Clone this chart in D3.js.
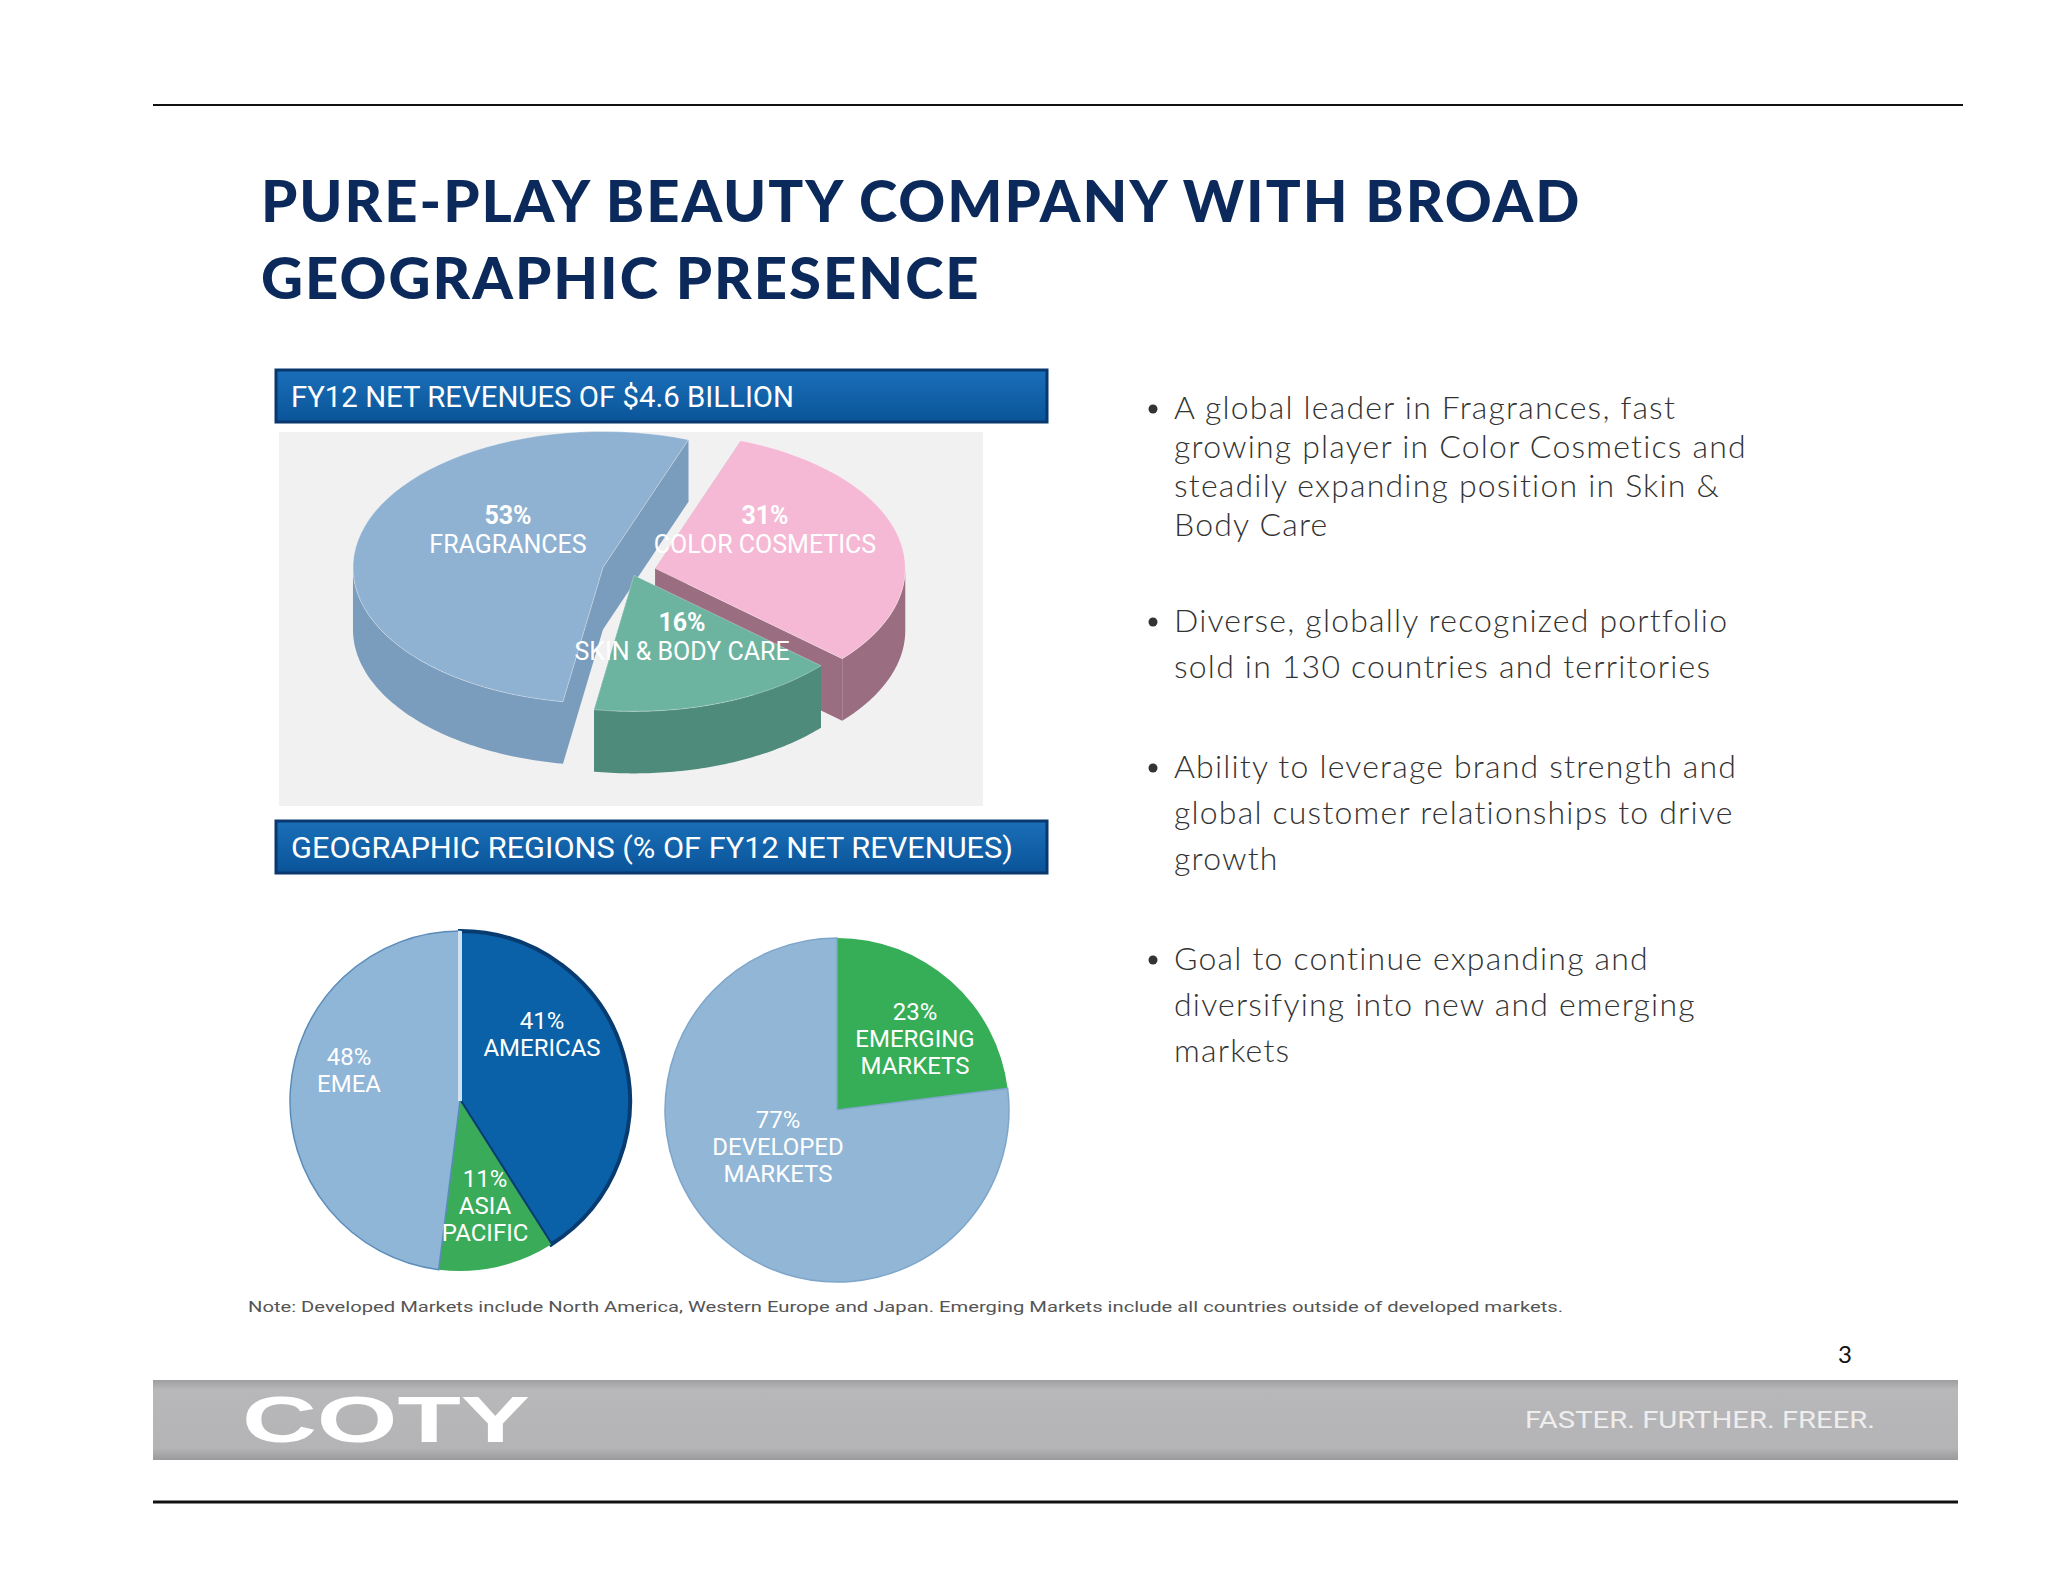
<!DOCTYPE html>
<html><head><meta charset="utf-8">
<script src="https://cdn.jsdelivr.net/npm/d3@7"></script>
<style>body{margin:0;background:#fff}svg{display:block}</style>
</head><body><svg id="c" width="2048" height="1582"></svg>
<script>
const categoryNames = ["FRAGRANCES","COLOR COSMETICS","SKIN & BODY CARE"];
const categoryValues = [53,31,16];
const regionNames = ["AMERICAS","ASIA PACIFIC","EMEA"];
const regionValues = [41,11,48];
const marketNames = ["EMERGING MARKETS","DEVELOPED MARKETS"];
const marketValues = [23,77];
const titleLines = ["PURE-PLAY BEAUTY COMPANY WITH BROAD","GEOGRAPHIC PRESENCE"];
const bullets = [
 ["A global leader in Fragrances, fast","growing player in Color Cosmetics and","steadily expanding position in Skin &","Body Care"],
 ["Diverse, globally recognized portfolio","sold in 130 countries and territories"],
 ["Ability to leverage brand strength and","global customer relationships to drive","growth"],
 ["Goal to continue expanding and","diversifying into new and emerging","markets"]];

const svg = d3.select("#c");
const defs = svg.append("defs");
const g1 = defs.append("linearGradient").attr("id","hdr").attr("x1",0).attr("x2",0).attr("y1",0).attr("y2",1);
g1.append("stop").attr("offset","0").attr("stop-color","#1a6fb8");
g1.append("stop").attr("offset","1").attr("stop-color","#0a5499");
const g2 = defs.append("linearGradient").attr("id","ftr").attr("x1",0).attr("x2",0).attr("y1",0).attr("y2",1);
g2.append("stop").attr("offset","0").attr("stop-color","#9e9ea0");
g2.append("stop").attr("offset","0.12").attr("stop-color","#b8b8ba");
g2.append("stop").attr("offset","0.85").attr("stop-color","#b4b4b6");
g2.append("stop").attr("offset","1").attr("stop-color","#9a9a9c");

svg.append("line").attr("x1",153).attr("x2",1963).attr("y1",105).attr("y2",105).attr("stroke","#111").attr("stroke-width",2);
svg.append("line").attr("x1",153).attr("x2",1958).attr("y1",1502).attr("y2",1502).attr("stroke","#111").attr("stroke-width",3);

svg.selectAll("text.title").data(titleLines).join("text").attr("class","title")
 .attr("x",261).attr("y",(d,i)=>222+i*77)
 .attr("font-family","Lato").attr("font-weight",900).attr("font-size",58)
 .attr("fill","#0b2a5b").attr("letter-spacing",2).text(d=>d);

function header(y,txt,tw){
 svg.append("rect").attr("x",276).attr("y",y).attr("width",771).attr("height",52).attr("fill","url(#hdr)").attr("stroke","#08386e").attr("stroke-width",3);
 svg.append("text").attr("x",291).attr("y",y+37).attr("font-family","Roboto").attr("font-size",30)
  .attr("fill","#fff").attr("textLength",tw).attr("lengthAdjust","spacingAndGlyphs").text(txt);
}
header(370,"FY12 NET REVENUES OF $4.6 BILLION",503);
header(821,"GEOGRAPHIC REGIONS (% OF FY12 NET REVENUES)",722);

svg.append("rect").attr("x",279).attr("y",432).attr("width",704).attr("height",374).attr("fill","#f1f1f2");

const cx=632, cy=572, rx=250, ry=136, depth=62;
const topCols=["#90b2d2","#f5b9d5","#6db4a0"];
const sideCols=["#7a9cbd","#9a6e80","#4f8b7a"];
const explode=[30,24,6];
const startDeg=189.2;
const p3 = d3.pie().sort(null).startAngle(startDeg*Math.PI/180).endAngle(startDeg*Math.PI/180+2*Math.PI)(categoryValues);
function pt(a,ox,oy,dz){return [cx+ox+rx*Math.sin(a), cy+oy-ry*Math.cos(a)+dz];}
const pieG = svg.append("g");
const slices = p3.map((s,i)=>{const m=(s.startAngle+s.endAngle)/2;return {s,i,ox:explode[i]*Math.sin(m),oy:-explode[i]*0.6*Math.cos(m)};});
function arcPts(ox,oy,dz,a0,a1){const pts=[];const n=60;for(let k=0;k<=n;k++){const a=a0+(a1-a0)*k/n;pts.push(pt(a,ox,oy,dz));}return pts;}
slices.slice().sort((a,b)=>a.oy-b.oy).forEach(o=>{
 const {s,i,ox,oy}=o;
 const c=[cx+ox,cy+oy];
 [s.startAngle,s.endAngle].forEach(a=>{
  const e=pt(a,ox,oy,0);
  const path=d3.path();path.moveTo(c[0],c[1]);path.lineTo(e[0],e[1]);path.lineTo(e[0],e[1]+depth);path.lineTo(c[0],c[1]+depth);path.closePath();
  pieG.append("path").attr("d",path.toString()).attr("fill",sideCols[i]);
 });
 const ranges=[];
 [0,2*Math.PI].forEach(off=>{
  const lo=Math.max(s.startAngle,Math.PI/2+off), hi=Math.min(s.endAngle,3*Math.PI/2+off);
  if(hi>lo) ranges.push([lo,hi]);
 });
 ranges.forEach(([a0,a1])=>{
  const top=arcPts(ox,oy,0,a0,a1), bot=arcPts(ox,oy,depth,a1,a0);
  pieG.append("path").attr("d",d3.line()(top.concat(bot))+"Z").attr("fill",sideCols[i]);
 });
});
slices.forEach(o=>{
 const {s,i,ox,oy}=o;
 const pts=[[cx+ox,cy+oy]].concat(arcPts(ox,oy,0,s.startAngle,s.endAngle));
 pieG.append("path").attr("d",d3.line()(pts)+"Z").attr("fill",topCols[i]).attr("stroke","#ffffff").attr("stroke-opacity",0.3);
});
const lab3=[[508,524],[765,524],[682,631]];
slices.forEach((o,i)=>{
 const t=pieG.append("text").attr("text-anchor","middle").attr("font-family","Roboto").attr("fill","#fff").attr("font-size",25);
 t.append("tspan").attr("x",lab3[i][0]).attr("y",lab3[i][1]).attr("font-weight","bold").text(categoryValues[i]+"%");
 t.append("tspan").attr("x",lab3[i][0]).attr("dy",29).text(categoryNames[i]);
});

function flatPie(cxp,cyp,r,vals,cols,labels){
 const arcs=d3.pie().sort(null)(vals);
 const arc=d3.arc().innerRadius(0).outerRadius(r);
 const g=svg.append("g").attr("transform",`translate(${cxp},${cyp})`);
 g.selectAll("path").data(arcs).join("path").attr("d",arc).attr("fill",(d,i)=>cols[i].f).attr("stroke",(d,i)=>cols[i].s).attr("stroke-width",(d,i)=>cols[i].w);
 labels.forEach(l=>{
  const t=g.append("text").attr("text-anchor","middle").attr("font-family","Roboto").attr("font-size",24).attr("fill",l.c);
  l.lines.forEach((s,k)=>t.append("tspan").attr("x",l.x).attr("y",l.y+k*27).text(s));
 });
}
flatPie(460,1101,170,regionValues,
 [{f:"#0a61a7",s:"#083c70",w:4},{f:"#3aab58",s:"#3aab58",w:0},{f:"#8fb5d7",s:"#5a8cba",w:1.5}],
 [{x:82,y:-72,c:"#fff",lines:[regionValues[0]+"%",regionNames[0]]},
  {x:25,y:86,c:"#fff",lines:[regionValues[1]+"%","ASIA","PACIFIC"]},
  {x:-111,y:-36,c:"#fff",lines:[regionValues[2]+"%",regionNames[2]]}]);
svg.append("line").attr("x1",460).attr("x2",460).attr("y1",931).attr("y2",1101).attr("stroke","#cfe3f3").attr("stroke-width",4);
flatPie(837,1110,172,marketValues,
 [{f:"#36ad57",s:"#36ad57",w:0},{f:"#92b6d6",s:"#7ea6ca",w:1.5}],
 [{x:78,y:-90,c:"#fff",lines:[marketValues[0]+"%","EMERGING","MARKETS"]},
  {x:-59,y:18,c:"#fff",lines:[marketValues[1]+"%","DEVELOPED","MARKETS"]}]);

const by=[[419,458,497,536],[632,678],[778,824,870],[970,1016,1062]];
bullets.forEach((b,i)=>{
 svg.append("circle").attr("cx",1153).attr("cy",by[i][0]-10).attr("r",4.5).attr("fill","#333");
 b.forEach((line,k)=>svg.append("text").attr("x",1174).attr("y",by[i][k]).attr("font-family","Lato").attr("font-weight",300).attr("font-size",32).attr("letter-spacing",1.2).attr("fill","#333").text(line));
});

svg.append("text").attr("x",248).attr("y",1312).attr("font-family","Roboto").attr("font-size",15).attr("fill","#555")
 .attr("textLength",1315).attr("lengthAdjust","spacingAndGlyphs")
 .text("Note: Developed Markets include North America, Western Europe and Japan. Emerging Markets include all countries outside of developed markets.");
svg.append("text").attr("x",1845).attr("y",1363).attr("text-anchor","middle").attr("font-family","Lato").attr("font-size",24).attr("fill","#111").text("3");

svg.append("rect").attr("x",153).attr("y",1380).attr("width",1805).attr("height",80).attr("fill","url(#ftr)");
svg.append("text").attr("x",242).attr("y",1442).attr("font-family","Liberation Sans, Arial").attr("font-weight","bold").attr("font-size",64)
 .attr("fill","#fff").attr("textLength",288).attr("lengthAdjust","spacingAndGlyphs").text("COTY");
svg.append("text").attr("x",1875).attr("y",1428).attr("text-anchor","end").attr("font-family","Roboto").attr("font-size",24).attr("fill","#eee")
 .attr("textLength",350).attr("lengthAdjust","spacingAndGlyphs").text("FASTER. FURTHER. FREER.");
</script></body></html>
